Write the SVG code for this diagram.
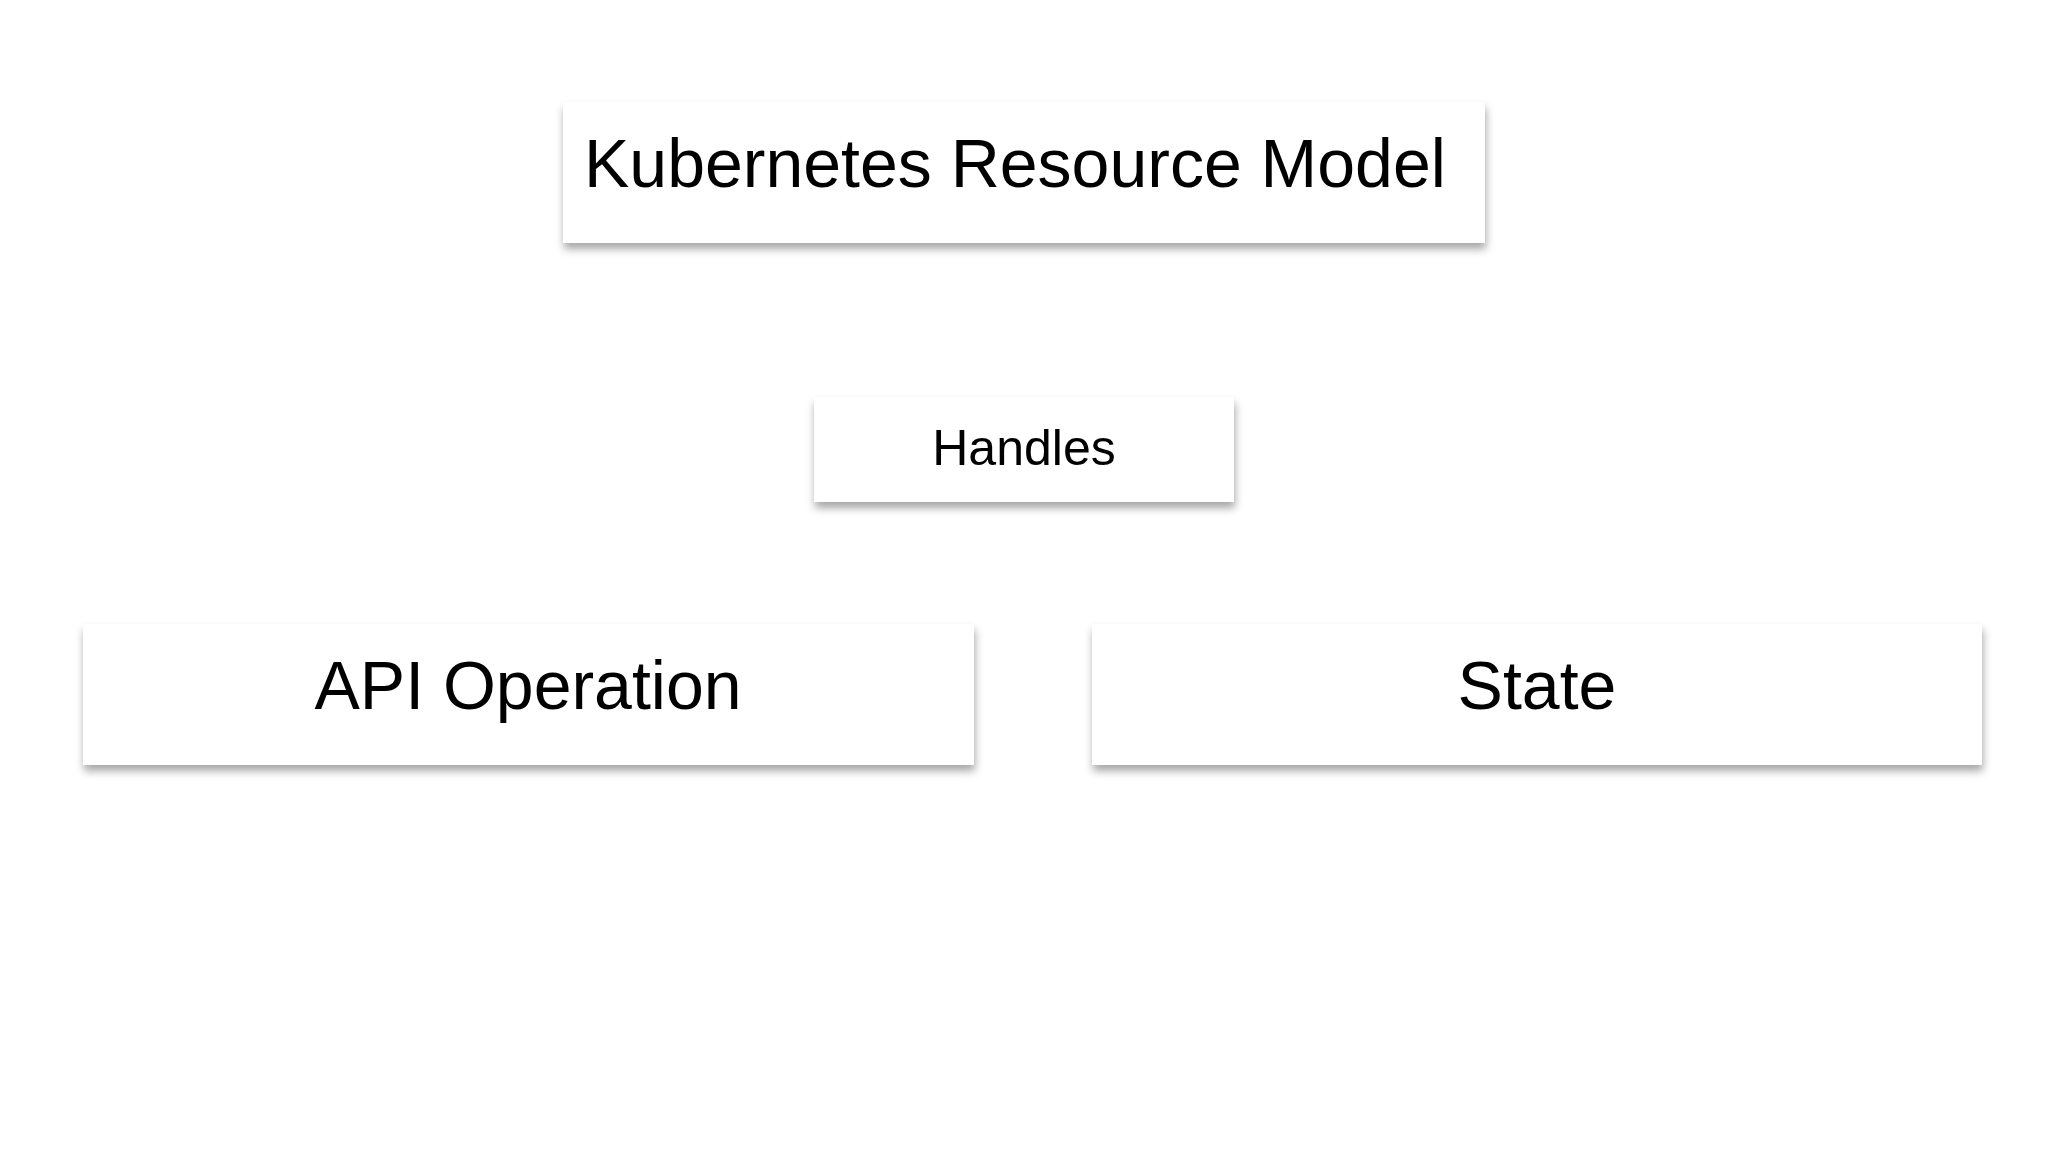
<svg xmlns="http://www.w3.org/2000/svg" width="2048" height="1152" viewBox="0 0 2048 1152">
<style>
.box{fill:#ffffff;filter:url(#sh)}
.t{font-family:"Liberation Sans",Arial,sans-serif;fill:#000000}
</style>
<defs>
<filter id="sh" x="-5%" y="-20%" width="110%" height="150%">
<feDropShadow dx="1" dy="6" stdDeviation="4" flood-color="#000" flood-opacity="0.35"/>
</filter>
</defs>
<rect width="2048" height="1152" fill="#ffffff"/>
<g id="connectors"></g>
<g id="krm">
<rect class="box" x="563" y="102" width="922" height="141"/>
<text class="t" x="584" y="187" font-size="68">Kubernetes Resource Model</text>
</g>
<g id="handles">
<rect class="box" x="814" y="397" width="420" height="105"/>
<text class="t" x="1024" y="465" font-size="50" text-anchor="middle">Handles</text>
</g>
<g id="api-operation">
<rect class="box" x="83" y="624" width="891" height="141"/>
<text class="t" x="528" y="709" font-size="68" text-anchor="middle">API Operation</text>
</g>
<g id="state">
<rect class="box" x="1092" y="624" width="890" height="141"/>
<text class="t" x="1537" y="709" font-size="68" text-anchor="middle">State</text>
</g>
</svg>
